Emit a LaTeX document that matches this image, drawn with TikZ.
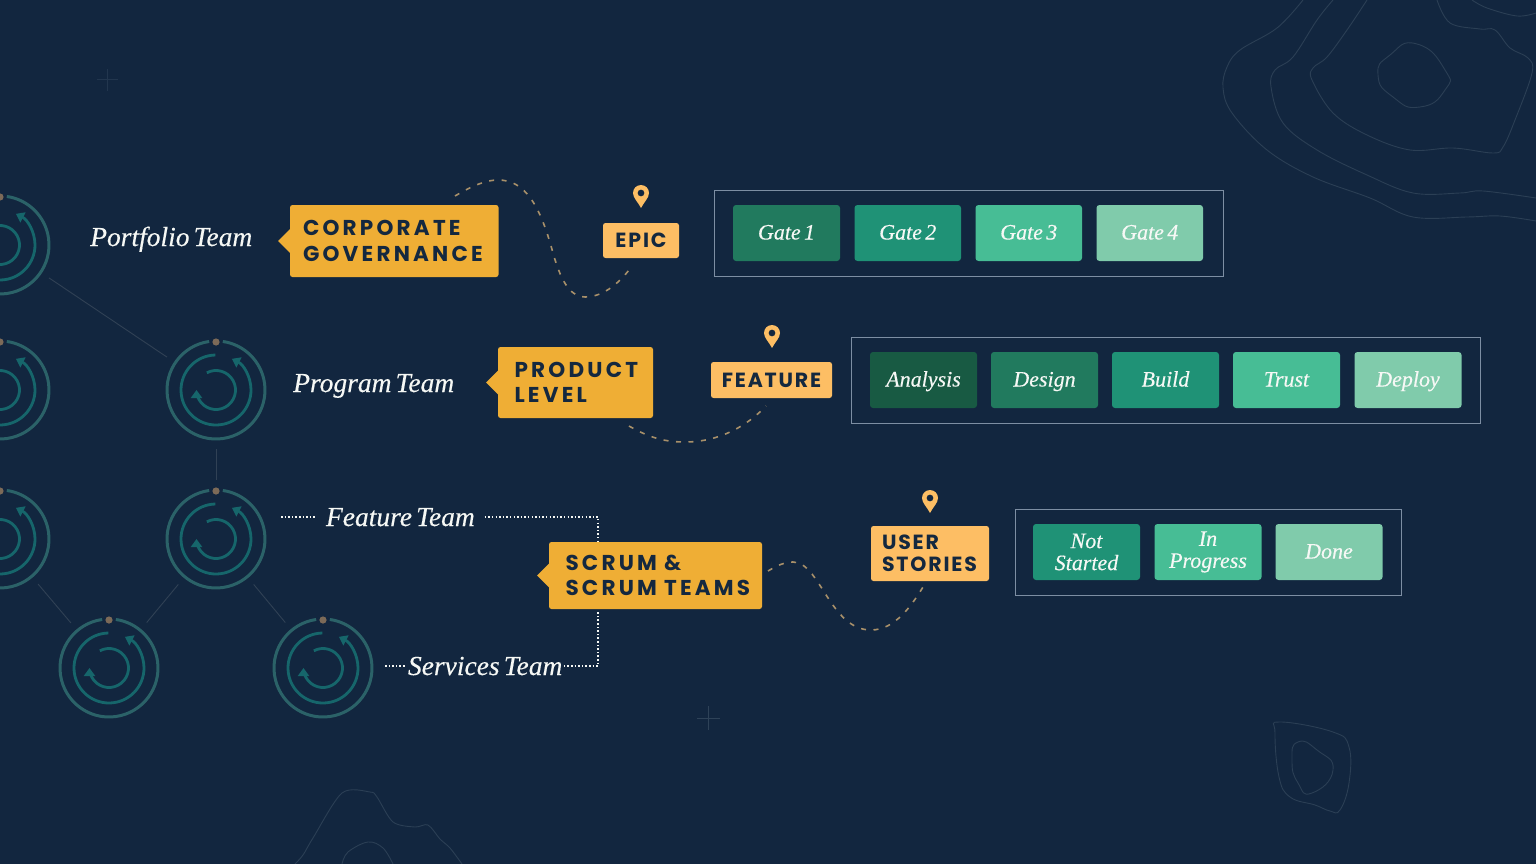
\documentclass[tikz,border=0pt]{standalone}
\usepackage{fontspec}
\usetikzlibrary{arrows.meta}
\setmainfont{Liberation Serif}[WordSpace=0.6,ItalicFeatures={FakeBold=0.3}]
\newfontfamily\tagfont[LetterSpace=15,WordSpace=0.35]{Poppins}
\newfontfamily\smalltagfont[LetterSpace=9]{Poppins}
\definecolor{bgc}{HTML}{12263F}
\definecolor{tagdark}{HTML}{EFAE35}
\definecolor{taglight}{HTML}{FDBE64}
\definecolor{inkc}{HTML}{14283F}
\definecolor{gA}{HTML}{185A43}
\definecolor{gB}{HTML}{217A5E}
\definecolor{gC}{HTML}{1F9276}
\definecolor{gD}{HTML}{47BD95}
\definecolor{gE}{HTML}{80CBAB}
\definecolor{framec}{HTML}{7D8EA3}
\definecolor{ringA}{HTML}{2B6268}
\definecolor{ringB}{HTML}{16666B}
\definecolor{ringdot}{HTML}{7C6A58}
\definecolor{contour}{HTML}{2B3F55}
\definecolor{plusA}{HTML}{22364E}
\definecolor{plusB}{HTML}{2E4258}
\definecolor{linkc}{HTML}{304155}
\definecolor{dashc}{HTML}{A8906A}
\definecolor{txtc}{HTML}{F6F8F5}
\tikzset{
  contourline/.style={draw=contour,line width=.9pt},
  tagbase/.style={rounded corners=2.5pt,inner ysep=0pt,outer sep=0pt,align=left,anchor=north west,text=inkc},
  bigtag/.style={tagbase,fill=tagdark,font={\tagfont\bfseries\fontsize{21.5}{25.5}\selectfont}},
  smalltag/.style={tagbase,fill=taglight,font={\smalltagfont\bfseries\fontsize{20.5}{22}\selectfont}},
  stagebox/.style={rounded corners=3pt,anchor=north west,minimum height=56pt,inner sep=0pt,outer sep=0pt,align=center,text=txtc,font={\itshape\fontsize{22}{22}\selectfont}},
  oneline/.style={text height=16pt,text depth=3pt},
  frameline/.style={draw=framec,line width=1pt,anchor=north west,inner sep=0pt,minimum height=86pt},
  teamlabel/.style={text=txtc,inner sep=0pt,anchor=base west,font={\itshape\fontsize{27.5}{33}\selectfont}},
  dotline/.style={draw=txtc,line width=1.7pt,dash pattern=on 1.5pt off 2.1pt},
  dashcurve/.style={draw=dashc,line width=1.6pt,dash pattern=on 5pt off 7.5pt},
  faintlink/.style={draw=linkc,line width=.9pt},
  ringhold/.style={circle,minimum size=118pt,inner sep=0pt,outer sep=0pt},
}
\newcommand{\ringicon}[1]{%
  \begin{scope}[shift={(#1)},yscale=-1]
    \draw[ringA,line width=3pt] (98:49) arc[start angle=98,end angle=442,radius=49];
    \fill[ringdot] (90:48) circle[radius=3.6];
    \draw[ringB,line width=2.8pt,-{Triangle[width=11pt,length=8pt]}] (91:35) arc[start angle=91,end angle=423,radius=35];
    \draw[ringB,line width=2.8pt,-{Triangle[width=11pt,length=8pt]}] (118:19.5) arc[start angle=118,end angle=-180,radius=19.5];
  \end{scope}}
\newcommand{\pinmark}[1]{%
  \begin{scope}[shift={(#1)},yscale=-1]
    \fill[taglight,even odd rule] (0,-15) .. controls (-3,-9) and (-8,-5) .. (-8,0) arc[start angle=180,end angle=0,radius=8] .. controls (8,-5) and (3,-9) .. (0,-15) -- cycle (0,0) circle[radius=3.5];
  \end{scope}}
\newcommand{\tagpointer}[1]{\fill[tagdark] ([yshift=12pt]#1.west) -- ([xshift=-12pt]#1.west) -- ([yshift=-12pt]#1.west) -- cycle;}
\begin{document}
\begin{tikzpicture}[x=1pt,y=-1pt]
\useasboundingbox (0,0) rectangle (1536,864);
\fill[bgc] (0,0) rectangle (1536,864);
\clip (0,0) rectangle (1536,864);
% contour background
\draw[contourline] plot[smooth,tension=.6] coordinates {(1303,0) (1277,28) (1240,50) (1227,67) (1223,88) (1232,113) (1267,150) (1313,177) (1370,198) (1413,217) (1467,217) (1500,216) (1536,221)};
\draw[contourline] plot[smooth,tension=.6] coordinates {(1333,0) (1317,20) (1293,57) (1275,70) (1271,87) (1283,123) (1317,150) (1367,175) (1413,193) (1460,193) (1483,191) (1536,198)};
\draw[contourline] plot[smooth,tension=.6] coordinates {(1367,0) (1347,30) (1327,57) (1313,68) (1312,80) (1333,113) (1367,135) (1410,150) (1453,148) (1493,153) (1503,147) (1515,120) (1532,73) (1528,58) (1510,48) (1495,30) (1480,29) (1450,23) (1437,0)};
\draw[contourline] plot[smooth cycle,tension=1] coordinates {(1417,44) (1445,70) (1445,90) (1420,107) (1393,97) (1378,75) (1390,55)};
\draw[contourline] plot[smooth,tension=.6] coordinates {(1472,0) (1487,8) (1517,16) (1536,13)};
\draw[contourline] plot[smooth cycle,tension=.7] coordinates {(1280,722) (1333,732) (1349,747) (1349,783) (1340,810) (1330,811) (1315,805) (1290,797) (1279,777) (1275,733)};
\draw[contourline] plot[smooth cycle,tension=1] coordinates {(1298,742) (1317,750) (1333,770) (1312,793) (1298,783) (1292,760)};
\draw[contourline] plot[smooth,tension=.5] coordinates {(295,864) (303,855) (313,838) (342,793) (370,792) (377,797) (393,822) (415,827) (428,825) (440,839) (450,848) (462,864)};
\draw[contourline] plot[smooth,tension=.6] coordinates {(342,864) (348,852) (368,842) (383,848) (393,864)};
\draw[draw=plusA,line width=1pt] (97,80) -- (118,80) (107,69) -- (107,91);
\draw[draw=plusB,line width=1pt] (697,718) -- (720,718) (708,706) -- (708,730);
% rings
\node[ringhold] (rA) at (0,245) {};
\node[ringhold] (rB) at (0,390) {};
\node[ringhold] (rC) at (0,539) {};
\node[ringhold] (rD) at (216,390) {};
\node[ringhold] (rE) at (216,539) {};
\node[ringhold] (rF) at (109,668) {};
\node[ringhold] (rG) at (323,668) {};
\ringicon{rA}\ringicon{rB}\ringicon{rC}\ringicon{rD}\ringicon{rE}\ringicon{rF}\ringicon{rG}
\draw[faintlink] (rA) -- (rD);
\draw[faintlink] (rD) -- (rE);
\draw[faintlink] (rE) -- (rF);
\draw[faintlink] (rE) -- (rG);
\draw[faintlink] (rC) -- (rF);
% team labels
\node[teamlabel] (portfolio) at (90,246) {Portfolio Team};
\node[teamlabel] (program) at (293,392) {Program Team};
\node[teamlabel,outer xsep=10pt] (featureteam) at (316,526) {Feature Team};
\node[teamlabel,outer xsep=1.5pt] (servicesteam) at (406.5,675) {Services Team};
% big tags
\node[bigtag,inner xsep=13pt,text width=182.5pt,minimum height=72pt] (corp) at (290,205) {\mbox{CORPORATE}\\\mbox{GOVERNANCE}};
\node[bigtag,inner xsep=16.5pt,text width=122pt,minimum height=71pt] (prod) at (498,347) {\mbox{PRODUCT}\\\mbox{LEVEL}};
\node[bigtag,inner xsep=16.5pt,text width=180pt,minimum height=67pt] (scrum) at (549,542) {\mbox{SCRUM \&}\\\mbox{SCRUM TEAMS}};
\tagpointer{corp}\tagpointer{prod}\tagpointer{scrum}
% small tags
\node[smalltag,inner xsep=0pt,text width=76pt,align=center,minimum height=35pt] (epic) at (603,223) {EPIC};
\node[smalltag,inner xsep=0pt,text width=121pt,align=center,minimum height=36pt] (feat) at (711,362) {FEATURE};
\node[smalltag,inner xsep=11pt,text width=96pt,minimum height=55pt] (user) at (871,526) {\mbox{USER}\\\mbox{STORIES}};
\pinmark{641,193}
\pinmark{772,333}
\pinmark{930,498}
% dotted links
\coordinate (fleft) at (281,517);
\coordinate (sleft) at (385,666);
\coordinate (ftop) at (598,542);
\coordinate (sbot) at (598,612);
\draw[dotline] (fleft) -- (featureteam.west |- fleft);
\draw[dotline] (featureteam.east |- fleft) -| (ftop);
\draw[dotline] (sleft) -- (servicesteam.west |- sleft);
\draw[dotline] (servicesteam.east |- sleft) -| (sbot);
% dashed curves
\coordinate (dA) at (455,196);
\coordinate (dB) at (632,266);
\coordinate (dC) at (629,426);
\coordinate (dD) at (766,406);
\coordinate (dE) at (768,571);
\coordinate (dF) at (923,587);
\draw[dashcurve] (dA) .. controls (475,184) and (488,180) .. (498,180) .. controls (525,180) and (540,205) .. (553,253) .. controls (562,285) and (572,297) .. (585,297) .. controls (605,297) and (622,280) .. (dB);
\draw[dashcurve] (dC) .. controls (650,438) and (665,442) .. (685,442) .. controls (720,442) and (748,425) .. (dD);
\draw[dashcurve] (dE) .. controls (778,565) and (785,562) .. (793,562) .. controls (820,562) and (830,630) .. (871,630) .. controls (895,630) and (912,605) .. (dF);
% frames
\node[frameline,minimum width=509pt] (frameA) at (714,190) {};
\node[frameline,minimum width=629pt] (frameB) at (851,337) {};
\node[frameline,minimum width=386pt] (frameC) at (1015,509) {};
% stage boxes
\node[stagebox,oneline,fill=gB,minimum width=107pt] (g1) at (733,205) {Gate 1};
\node[stagebox,oneline,fill=gC,minimum width=106.5pt] (g2) at (854.5,205) {Gate 2};
\node[stagebox,oneline,fill=gD,minimum width=106.5pt] (g3) at (975.5,205) {Gate 3};
\node[stagebox,oneline,fill=gE,minimum width=106.5pt] (g4) at (1096.5,205) {Gate 4};
\node[stagebox,oneline,fill=gA,minimum width=107pt] (p1) at (870,352) {Analysis};
\node[stagebox,oneline,fill=gB,minimum width=107pt] (p2) at (991,352) {Design};
\node[stagebox,oneline,fill=gC,minimum width=107pt] (p3) at (1112,352) {Build};
\node[stagebox,oneline,fill=gD,minimum width=107pt] (p4) at (1233,352) {Trust};
\node[stagebox,oneline,fill=gE,minimum width=107pt] (p5) at (1354.5,352) {Deploy};
\node[stagebox,fill=gC,minimum width=107pt] (s1) at (1033,524) {Not\\Started};
\node[stagebox,fill=gD,minimum width=107pt] (s2) at (1154.5,524) {In\\Progress};
\node[stagebox,oneline,fill=gE,minimum width=107pt] (s3) at (1275.5,524) {Done};
\end{tikzpicture}
\end{document}
